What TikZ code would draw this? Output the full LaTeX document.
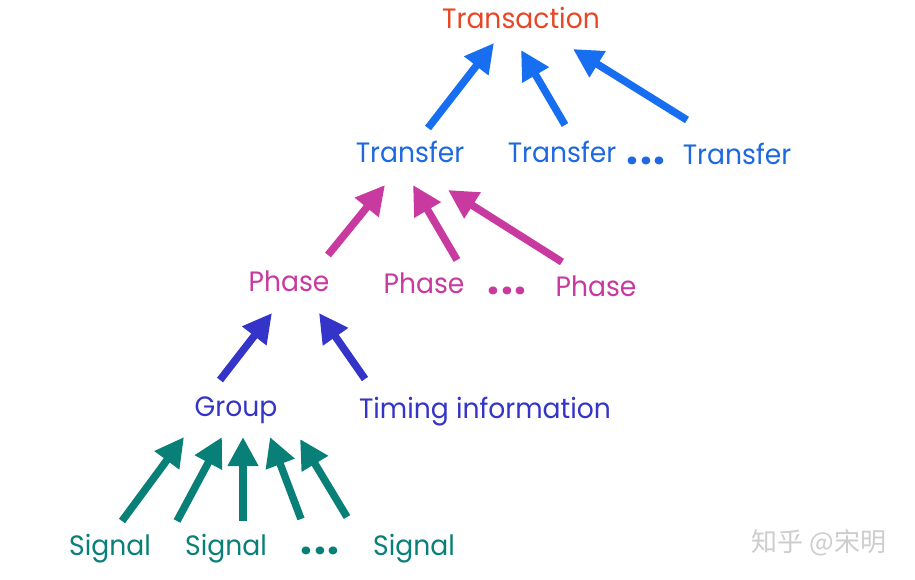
\documentclass[tikz,border=0pt]{standalone}
\usepackage{fontspec}
\setmainfont{Poppins}[FakeStretch=0.95]
\newfontfamily\dotfont{Poppins}
\newfontfamily\cjk{Noto Sans CJK SC}
\usetikzlibrary{arrows.meta,calc}
\definecolor{cred}{RGB}{232,70,36}
\definecolor{cblue}{RGB}{24,110,240}
\definecolor{ctblue}{RGB}{30,105,225}
\definecolor{cmag}{RGB}{200,58,160}
\definecolor{cnavy}{RGB}{52,52,200}
\definecolor{cteal}{RGB}{8,128,120}
\definecolor{cwm}{RGB}{205,205,205}
\tikzset{
  lbl/.style={anchor=base,inner sep=0pt,font=\fontsize{28}{30}\selectfont},
  dotsl/.style={anchor=base,inner sep=0pt,font=\dotfont\fontsize{42}{44}\selectfont\bfseries},
  arr/.style={line width=7.5pt,-{Triangle[length=29pt,width=29pt]}},
}
\begin{document}
\begin{tikzpicture}[x=1pt,y=-1pt]
\useasboundingbox (0,0) rectangle (915,579);
\fill[white] (0,0) rectangle (915,579);
% nodes
\node[lbl,text=cred] (tr) at (521,28) {Transaction};
\node[lbl,text=ctblue] (t1) at (410,162) {Transfer};
\node[lbl,text=ctblue] (t2) at (562,162) {Transfer};
\node[dotsl,text=ctblue] (td) at (646,164) {.\kern2pt.\kern2pt.};
\node[lbl,text=ctblue] (t3) at (737,164) {Transfer};
\node[lbl,text=cmag] (p1) at (289,291) {Phase};
\node[lbl,text=cmag] (p2) at (424,293) {Phase};
\node[dotsl,text=cmag] (pd) at (507,294) {.\kern2pt.\kern2pt.};
\node[lbl,text=cmag] (p3) at (596,296) {Phase};
\node[lbl,text=cnavy] (g) at (236,416) {Group};
\node[lbl,text=cnavy] (ti) at (485,418) {Timing information};
\node[lbl,text=cteal] (s1) at (110,555) {Signal};
\node[lbl,text=cteal] (s2) at (226,555) {Signal};
\node[dotsl,text=cteal] (sd) at (320,554) {.\kern2pt.\kern2pt.};
\node[lbl,text=cteal] (s3) at (414,555) {Signal};
\node[anchor=center,inner sep=0pt,text=cwm,font=\cjk\fontsize{26}{28}\selectfont] (wm) at (819,543) {知乎 @宋明};
% blue arrows
\draw[arr,cblue] ($(t1.base)+(18,-34)$) -- ($(tr.base)+(-27,15)$);
\draw[arr,cblue] ($(t2.base)+(3,-37)$) -- ($(tr.base)+(0,22)$);
\draw[arr,cblue] ($(t3.base)+(-50,-44)$) -- ($(tr.base)+(52,21)$);
% magenta arrows
\draw[arr,cmag] ($(p1.base)+(39,-36)$) -- ($(t1.base)+(-25,23)$);
\draw[arr,cmag] ($(p2.base)+(33,-33)$) -- ($(t1.base)+(3,23)$);
\draw[arr,cmag] ($(p3.base)+(-34,-34)$) -- ($(t1.base)+(38,28)$);
% navy arrows
\draw[arr,cnavy] ($(g.base)+(-16,-36)$) -- ($(p1.base)+(-17,22)$);
\draw[arr,cnavy] ($(ti.base)+(-120,-39)$) -- ($(p1.base)+(30,22)$);
% teal arrows
\draw[arr,cteal] ($(s1.base)+(12,-34)$) -- ($(g.base)+(-52,21)$);
\draw[arr,cteal] ($(s2.base)+(-49,-34)$) -- ($(g.base)+(-14,21)$);
\draw[arr,cteal] ($(s2.base)+(17,-34)$) -- ($(g.base)+(7,21)$);
\draw[arr,cteal] ($(sd.base)+(-19,-35)$) -- ($(g.base)+(34,21)$);
\draw[arr,cteal] ($(s3.base)+(-67,-38)$) -- ($(g.base)+(64,23)$);
\end{tikzpicture}
\end{document}
